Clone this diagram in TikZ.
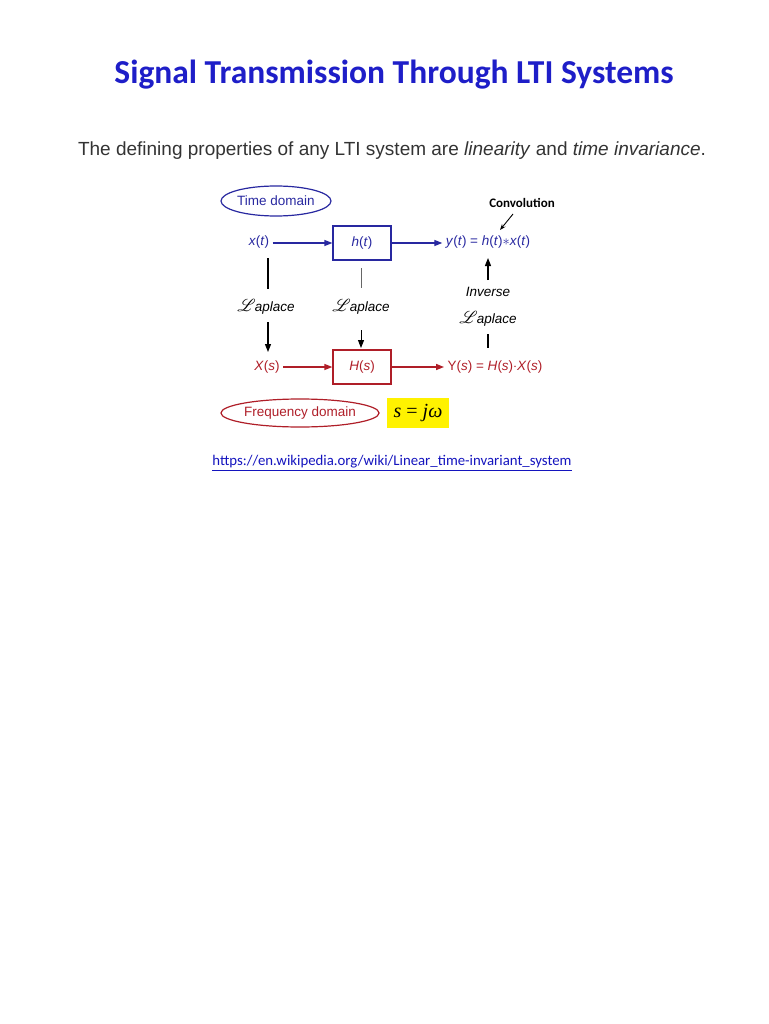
\documentclass[tikz,border=0pt]{standalone}
\usepackage{fontspec}
\usepackage{mathrsfs}
\setmainfont{Liberation Sans}
\newfontfamily\carl{Carlito}
\newfontfamily\tms{Liberation Serif}
\usetikzlibrary{arrows.meta,shapes.geometric}
\definecolor{tblue}{RGB}{30,30,200}
\definecolor{dblue}{RGB}{40,40,160}
\definecolor{dred}{RGB}{175,30,40}
\definecolor{ubl}{RGB}{20,20,190}
\begin{document}
\begin{tikzpicture}[x=1pt,y=-1pt,
  lab/.style={font=\fontsize{13.5}{15}\selectfont},
  bl/.style={lab,text=dblue},
  rd/.style={lab,text=dred},
  ar/.style={-{Triangle[length=8pt,width=6pt]},line width=1.3pt},
  lap/.style={lab,inner sep=1pt},
  blk/.style={draw,minimum width=58pt,minimum height=34pt,line width=1.3pt}]
\useasboundingbox (0,0) rectangle (768,1024);
\node (title) at (394,75) {\carl\bfseries\color{tblue}\fontsize{33.5}{36}\selectfont Signal Transmission Through LTI Systems};
\node (sub) at (392,151) {\color{black!80}\fontsize{19}{22}\selectfont The defining properties of any LTI system are \textit{linearity} and \textit{time invariance}.};
\node[draw=dblue,ellipse,line width=1.2pt,minimum width=110pt,minimum height=30pt,inner sep=0pt,bl] (td) at (276,201) {Time domain};
\node[bl] (xt) at (259,242) {\textit{x}(\textit{t})};
\node[blk,draw=dblue,bl] (ht) at (362,243) {\textit{h}(\textit{t})};
\node[bl] (yt) at (488,242) {\textit{y}(\textit{t}) = \textit{h}(\textit{t})$\ast$\textit{x}(\textit{t})};
\node[font=\carl\bfseries\fontsize{13}{15}\selectfont] (conv) at (522,203) {Convolution};
\coordinate (c1) at (513,214); \coordinate (c2) at (500,230);
\draw[-{Stealth[length=6pt]},line width=0.9pt] (c1) -- (c2);
\draw[ar,dblue] (xt.east |- ht.west) -- (ht.west);
\draw[ar,dblue] (ht.east) -- (ht.east -| yt.west);
% row 2
\node[rd] (xs) at (267,367) {\textit{X}(\textit{s})};
\node[blk,draw=dred,rd] (hs) at (362,367) {\textit{H}(\textit{s})};
\node[rd] (ys) at (495,367) {Y(\textit{s}) = \textit{H}(\textit{s})$\cdot$\textit{X}(\textit{s})};
\draw[ar,dred] (xs.east |- hs.west) -- (hs.west);
\draw[ar,dred] (hs.east) -- (hs.east -| ys.west);
% laplace
\newcommand\Lap{{\fontsize{18}{18}\selectfont$\mathscr{L}$}\kern-1pt\textit{aplace}}
\node[lap] (l1) at (266,307) {\Lap};
\node[lap] (l2) at (361,307) {\Lap};
\node[lap] (inv) at (488,292) {\textit{Inverse}};
\node[lap] (l3) at (488,319) {\Lap};
\draw[line width=1.3pt] (268,258) coordinate (a1) -- (268,289) coordinate (a2);
\draw[ar] (268,322) coordinate (a3) -- (268,352) coordinate (a4);
\draw[line width=0.8pt,black!60] (361,268) coordinate (b1) -- (361,288) coordinate (b2);
\draw[ar,line width=1pt] (361,330) coordinate (b3) -- (361,348) coordinate (b4);
\draw[ar] (488,280) coordinate (d1) -- (488,258) coordinate (d2);
\draw[line width=1.3pt] (488,334) coordinate (d3) -- (488,348) coordinate (d4);
\node[draw=dred,ellipse,line width=1.2pt,minimum width=150pt,minimum height=28pt,inner sep=0pt,rd] (fd) at (300,413) {Frequency domain};
\node[fill=yellow,minimum width=62pt,minimum height=30pt] (sj) at (418,413) {\tms\fontsize{20}{22}\selectfont\textit{s} = \textit{jω}};
\node (url) at (392,463) {\carl\fontsize{14.8}{16}\selectfont\color{ubl}\underline{https://en.wikipedia.org/wiki/Linear\_time-invariant\_system}};
\end{tikzpicture}
\end{document}
